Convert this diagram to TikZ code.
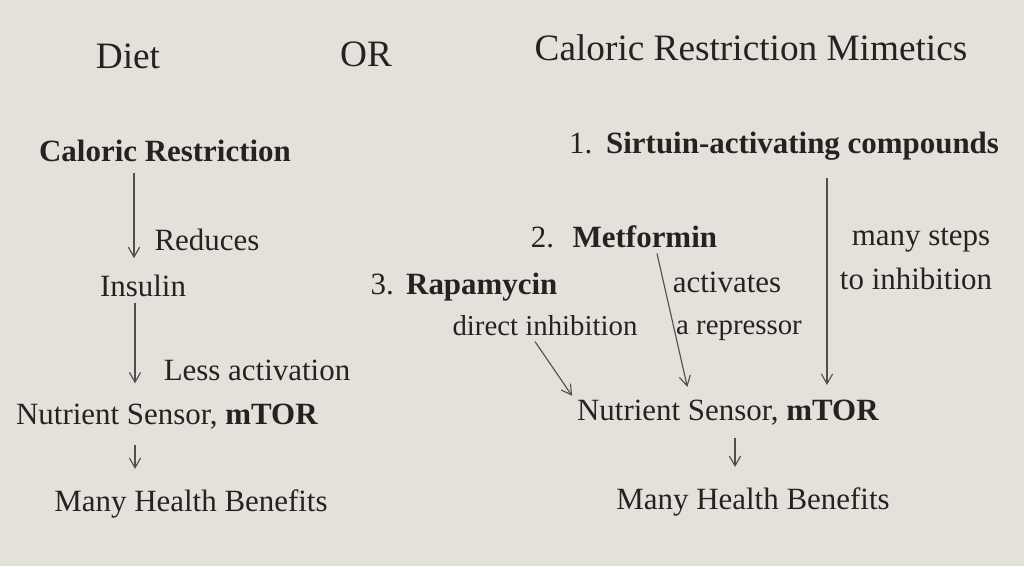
\documentclass[tikz,border=0pt]{standalone}
\usepackage{fontspec}
\setmainfont{Liberation Serif}
\usetikzlibrary{arrows.meta}
\definecolor{slide}{RGB}{228,225,218}
\definecolor{ink}{RGB}{38,34,34}
\tikzset{
  txt/.style={text=ink, font=\fontsize{22}{26}\selectfont, inner sep=2pt,
    text height=0.7em, text depth=0.22em},
  small/.style={txt, font=\fontsize{20.5}{24}\selectfont},
  head/.style={txt, font=\fontsize{26.5}{30}\selectfont},
  arr/.style={draw=ink!80, line width=0.8pt, -{Straight Barb[length=7pt,width=8pt]}}
}
\begin{document}
\begin{tikzpicture}[x=0.025cm, y=-0.025cm]
    \fill[slide] (0,0) rectangle (1024,566);
    % headings
    \foreach \n/\x/\y/\t in {%
        diet/128/65/Diet,
        or/366/63/OR,
        crm/751/57/{Caloric Restriction Mimetics}} {
      \node[head] (\n) at (\x,\y) {\t};
    }
    % left column
    \foreach \n/\x/\y/\t in {%
        cr/165/158/{\textbf{Caloric Restriction}},
        red/207/247/Reduces,
        ins/143/293/Insulin,
        less/257/377/{Less activation},
        nsl/167/421/{Nutrient Sensor, \textbf{mTOR}},
        mhbl/191/508/{Many Health Benefits}} {
      \node[txt] (\n) at (\x,\y) {\t};
    }
    % right column
    \foreach \n/\x/\y/\t in {%
        sirt/784/150/{1.\hspace{0.45em}\textbf{Sirtuin-activating compounds}},
        met/624/244/{2.\hspace{0.6em}\textbf{Metformin}},
        rapa/464/291/{3.\hspace{0.4em}\textbf{Rapamycin}},
        act/727/289/activates,
        many/921/242/{many steps},
        toinh/916/286/{to inhibition},
        nsr/728/417/{Nutrient Sensor, \textbf{mTOR}},
        mhbr/753/506/{Many Health Benefits}} {
      \node[txt] (\n) at (\x,\y) {\t};
    }
    \node[small] (di) at (545,332) {direct inhibition};
    \node[small] (rep) at (739,331) {a repressor};
    % arrows
    \draw[arr, shorten <=4pt, shorten >=18pt] (134,0 |- cr.south) -- (134,0 |- ins.north);
    \draw[arr, shorten >=20pt] (135,0 |- ins.south) -- (135,0 |- nsl.north);
    \draw[arr, shorten <=10pt, shorten >=21pt] (135,0 |- nsl.south) -- (135,0 |- mhbl.north);
    \draw[arr, shorten <=8pt, shorten >=21pt] (735,0 |- nsr.south) -- (735,0 |- mhbr.north);
    \draw[arr, shorten >=10pt] (535,0 |- di.south) -- (580,0 |- nsr.north);
    \draw[arr, shorten >=15pt] (657,0 |- met.south) -- (692,0 |- nsr.north);
    \draw[arr, shorten <=13pt, shorten >=16pt] (827,0 |- sirt.south) -- (827,0 |- nsr.north);
\end{tikzpicture}
\end{document}
